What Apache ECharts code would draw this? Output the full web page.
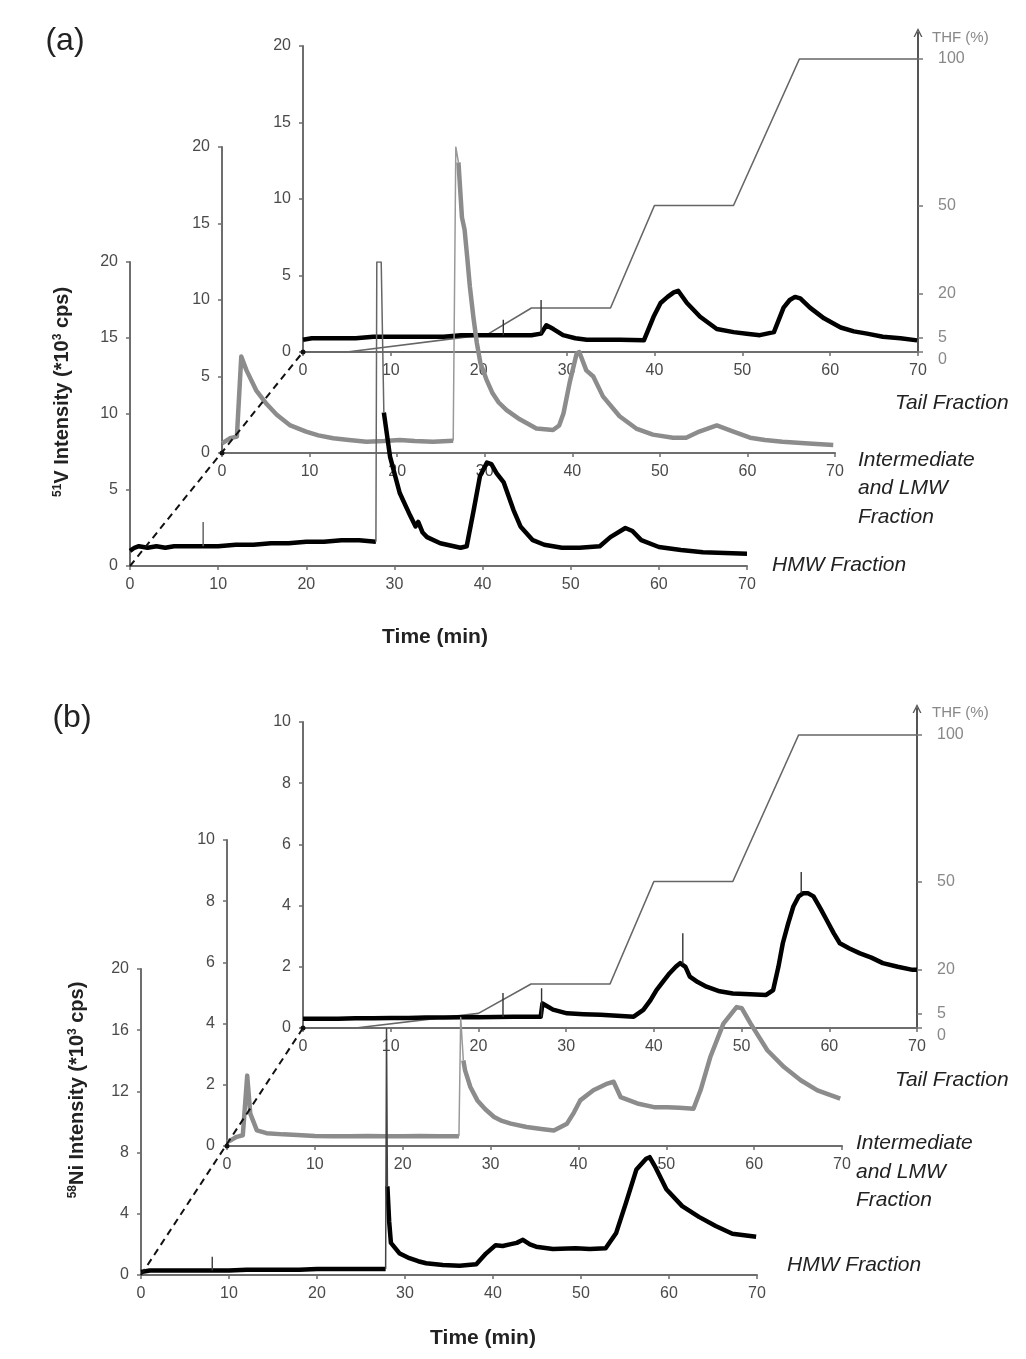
<!DOCTYPE html>
<html><head><meta charset="utf-8">
<script src="https://cdn.jsdelivr.net/npm/echarts@6/dist/echarts.min.js"></script>
<style>html,body{margin:0;padding:0;background:#fff}#c{width:1026px;height:1359px}</style>
</head><body><div id="c"></div><script>
// ---------- DATA (time in min, intensity in 10^3 cps) ----------
// Panel (a) 51V
const aHmwT = [0,0.5,1,2,3,4,5,6,7,8,9,10,12,14,16,18,20,22,24,26,27.9,28.3,28.8,29.5,30.6,31.8,32.4,32.7,33.2,33.7,35.2,37.5,38.2,39.0,39.7,40.5,41.0,41.6,42.4,43.5,44.3,45.7,47,49,51,53.3,54.5,56.2,57,58,60,62.5,65,67.5,70];
const aHmwV = [1.0,1.2,1.3,1.2,1.3,1.2,1.3,1.3,1.3,1.3,1.3,1.3,1.4,1.4,1.5,1.5,1.6,1.6,1.7,1.7,1.6,null,10.1,7.2,4.8,3.3,2.6,2.9,2.2,1.9,1.5,1.2,1.3,3.7,5.9,6.8,6.7,6.1,5.5,3.7,2.6,1.7,1.4,1.2,1.2,1.3,1.9,2.5,2.3,1.7,1.25,1.05,0.9,0.85,0.8];
const aHmwSpkT = [8.3,8.3,8.4,27.9,28.0,28.5,28.8];
const aHmwSpkV = [1.3,2.9,null,1.6,20,20,10.1];

const aIntT = [0,0.9,1.7,2.2,2.8,3.9,5.1,6.25,7.8,9.6,11,12.7,14.5,16.5,18.5,20.3,22,24.1,26.4,26.6,27.0,27.4,27.7,28.0,28.3,28.7,29.1,29.5,30.2,30.9,31.6,32.5,34.0,35.9,37.8,38.5,39.0,39.7,40.5,40.8,41.6,42.4,43.5,45.4,47.3,49.2,51.5,53.0,54.5,56.5,58.4,60.3,62,64,67,69.8];
const aIntV = [0.63,0.96,1.07,6.3,5.4,4.1,3.2,2.5,1.8,1.4,1.15,0.96,0.85,0.74,0.78,0.85,0.78,0.74,0.8,null,19.0,15.4,14.6,12.8,10.9,8.9,7.2,5.9,4.8,3.9,3.3,2.8,2.2,1.6,1.5,1.8,2.6,4.6,6.5,6.6,5.4,5.0,3.7,2.4,1.6,1.2,1.0,1.0,1.4,1.8,1.4,1.0,0.85,0.74,0.62,0.52];
const aIntSpkT = [26.4,26.7,27.0];
const aIntSpkV = [0.8,20,19.0];

const aTailT = [0,1,2,4,6,8,10,12,14,16,18,20,22,24,26,27.1,27.7,28.5,29.6,31,32.3,34,36.1,38.8,39.9,40.7,41.5,42.2,42.7,43.7,45.2,47.1,49.0,50.5,52.0,53.6,54.7,55.4,56.0,56.6,57.7,59.3,61.2,62.7,64.2,66,68,69.9];
const aTailV = [0.8,0.9,0.9,0.9,0.9,1.0,1.0,1.0,1.0,1.0,1.1,1.1,1.1,1.1,1.1,1.2,1.75,1.5,1.1,0.9,0.8,0.8,0.8,0.76,2.3,3.2,3.6,3.9,4.0,3.2,2.3,1.5,1.3,1.2,1.1,1.3,2.9,3.4,3.6,3.5,2.9,2.2,1.6,1.35,1.2,1.0,0.9,0.76];
const aTailSpkT = [22.8,22.8,25,27.1,27.1];
const aTailSpkV = [1.1,2.1,null,1.2,3.4];

const thfAT = [0,5,21,26,35,40,49,56.5,70];
const thfAV = [0,0,6,15,15,50,50,100,100];

// Panel (b) 58Ni
const bHmwT = [0,1,2,4,6,8,10,12,14,16,18,20,22,24,26,27.8,27.9,28.0,28.2,28.4,29.4,30.5,31.5,32.4,34.3,36.2,38.1,39.2,40.3,41.1,41.9,42.7,43.4,44.2,44.9,46.8,49.4,51,52.8,54.0,55.1,56.3,57.4,57.8,58.5,59.7,61.5,63.4,65.3,67.2,69.9];
const bHmwV = [0.2,0.3,0.3,0.3,0.3,0.3,0.3,0.35,0.35,0.35,0.35,0.4,0.4,0.4,0.4,0.4,null,5.8,3.5,2.1,1.4,1.1,0.9,0.77,0.65,0.6,0.7,1.4,1.95,1.9,2.0,2.1,2.3,2.0,1.85,1.7,1.75,1.7,1.75,2.75,4.7,6.9,7.6,7.7,7.0,5.6,4.5,3.8,3.2,2.7,2.5];
const bHmwSpkT = [8.1,8.1,9,27.8,27.9,28.0];
const bHmwSpkV = [0.3,1.2,null,0.4,16.1,5.8];

const bIntT = [0,0.5,1.1,1.8,2.3,2.65,3.4,4.5,6.4,8,10,12,14,16,18,20,22,24,26.4,26.6,26.9,27.1,27.7,28.5,29.4,30.4,31.3,32.3,34.1,36,37.2,38.7,39.5,40.2,41.7,43.3,44.0,44.8,46.7,48.6,50.1,51.5,53.1,53.9,55.0,56.5,58.0,58.6,59.6,61.5,63.4,65.3,67.2,69.8];
const bIntV = [0.13,0.2,0.3,0.35,2.3,1.06,0.51,0.42,0.38,0.36,0.33,0.32,0.32,0.33,0.32,0.32,0.33,0.32,0.32,null,2.8,2.47,1.93,1.49,1.2,0.95,0.82,0.73,0.62,0.55,0.51,0.73,1.1,1.49,1.82,2.04,2.1,1.6,1.39,1.27,1.27,1.25,1.22,1.82,2.9,4.0,4.54,4.5,4.0,3.13,2.58,2.15,1.82,1.55];
const bIntSpkT = [26.4,26.6,26.9];
const bIntSpkV = [0.32,4.2,2.8];

const bTailT = [0,2,4,6,8,10,12,14,16,18,20,22,24,26,27.1,27.3,28.5,30.1,32,33.9,35.8,37.7,38.8,39.6,40.3,41.0,41.8,42.5,43.0,43.6,44.1,45.0,46.0,47.5,49.0,51,52.8,53.6,54.2,54.7,55.3,55.9,56.5,57.0,57.6,58.2,59.0,59.7,60.5,61.2,62.3,63.5,64.8,66.1,67.8,69.5,70];
const bTailV = [0.3,0.3,0.3,0.32,0.32,0.33,0.33,0.34,0.34,0.35,0.35,0.36,0.37,0.37,0.37,0.8,0.6,0.48,0.45,0.43,0.4,0.37,0.59,0.9,1.24,1.5,1.79,2.0,2.12,2.0,1.68,1.5,1.35,1.2,1.13,1.1,1.08,1.24,2.0,2.77,3.4,3.97,4.3,4.4,4.4,4.3,3.9,3.53,3.1,2.77,2.6,2.44,2.3,2.12,2.0,1.9,1.9];
const bTailSpkT = [22.8,22.8,25,27.2,27.2,30,43.3,43.3,50,56.8,56.8];
const bTailSpkV = [0.36,1.14,null,0.37,1.3,null,2.1,3.1,null,4.4,5.1];

const thfBT = [0,6,20,26,35,40,49,56.5,70];
const thfBV = [0,0,5,15,15,50,50,100,100];

const thfTicks = [0,5,20,50,100];
const fractionLabels = ['Tail Fraction','Intermediate','and LMW','Fraction','HMW Fraction'];

// ---------- STYLE / LAYOUT ----------
const FONT = "'Liberation Sans', Arial, sans-serif";
const AX = '#6e6e6e';
const BLACK = '#000000', GRAY = '#8c8c8c';
function zip(t, v) { return t.map((x, i) => [x, v[i]]); }

const grids = [
  {left:130, top:262, width:617, height:304},   // 0 a HMW
  {left:222, top:147, width:613, height:306},   // 1 a Int
  {left:303, top:46,  width:615, height:306},   // 2 a Tail
  {left:303, top:32.6,width:615, height:319.4}, // 3 a THF
  {left:141, top:969, width:616, height:306},   // 4 b HMW
  {left:227, top:840, width:615, height:306},   // 5 b Int
  {left:303, top:722, width:614, height:306},   // 6 b Tail
  {left:303, top:708.6,width:614, height:319.4} // 7 b THF
];

const lbl = {fontSize:16, color:'#4a4a4a', fontFamily:FONT};
function xAx(gi, show) {
  return {type:'value', gridIndex:gi, min:0, max:70, interval:10, show:show,
    axisLine:{onZero:false, lineStyle:{color:AX, width:2}},
    axisTick:{show:true, length:4, lineStyle:{color:AX, width:1.5}},
    axisLabel:Object.assign({margin:11}, lbl), splitLine:{show:false}};
}
function yAx(gi, max, interval) {
  return {type:'value', gridIndex:gi, min:0, max:max, interval:interval,
    axisLine:{show:true, onZero:false, lineStyle:{color:AX, width:2}},
    axisTick:{show:true, length:4, lineStyle:{color:AX, width:1.5}},
    axisLabel:Object.assign({margin:12}, lbl), splitLine:{show:false}};
}
const thfLabelStyle = {margin:20, fontSize:16, color:'#888', fontFamily:FONT};
function thfAx(gi) {
  return {type:'value', gridIndex:gi, position:'right', min:0, max:109,
    axisLine:{show:true, onZero:false, symbol:['none','path://M0,10 L5,0 L10,10 L8.4,10 L5,3.2 L1.6,10 Z'], symbolSize:[11,9],
      lineStyle:{color:'#555', width:2}},
    axisTick:{show:true, customValues:thfTicks, length:5, lineStyle:{color:'#777', width:1.5}},
    axisLabel:Object.assign({customValues:thfTicks.filter(v => v > 0), hideOverlap:false}, thfLabelStyle),
    splitLine:{show:false}};
}
// separate label-only axis for the THF "0" (sits just under the "5")
function thfZeroAx(gi) {
  return {type:'value', gridIndex:gi, position:'right', min:0, max:109,
    axisLine:{show:false}, axisTick:{show:false}, splitLine:{show:false},
    axisLabel:Object.assign({customValues:thfTicks.filter(v => v === 0), verticalAlign:'top', showMinLabel:true}, thfLabelStyle)};
}

const xAxis = [xAx(0,true), xAx(1,true), xAx(2,true), xAx(3,false), xAx(4,true), xAx(5,true), xAx(6,true), xAx(7,false)];
const yAxis = [yAx(0,20,5), yAx(1,20,5), yAx(2,20,5), thfAx(3), yAx(4,20,4), yAx(5,10,2), yAx(6,10,2), thfAx(7),
               thfZeroAx(3), thfZeroAx(7)];

function line(idx, t, v, color, width, z) {
  return {type:'line', xAxisIndex:idx, yAxisIndex:idx, data:zip(t, v), showSymbol:false, symbol:'none',
    connectNulls:false, silent:true, animation:false, z:z, lineStyle:{color:color, width:width, join:'round'}};
}

const series = [
  line(3, thfAT, thfAV, '#666', 1.6, 2),
  line(2, aTailT, aTailV, BLACK, 4.5, 3), line(2, aTailSpkT, aTailSpkV, '#333', 1.4, 3),
  line(1, aIntT, aIntV, GRAY, 4.5, 4), line(1, aIntSpkT, aIntSpkV, '#999', 1.5, 4),
  line(0, aHmwT, aHmwV, BLACK, 4.5, 5), line(0, aHmwSpkT, aHmwSpkV, '#666', 1.5, 5),
  line(7, thfBT, thfBV, '#666', 1.6, 2),
  line(6, bTailT, bTailV, BLACK, 4.5, 3), line(6, bTailSpkT, bTailSpkV, '#333', 1.4, 3),
  line(5, bIntT, bIntV, GRAY, 4.5, 4), line(5, bIntSpkT, bIntSpkV, '#999', 1.5, 4),
  line(4, bHmwT, bHmwV, BLACK, 4.5, 5), line(4, bHmwSpkT, bHmwSpkV, '#444', 1.5, 5)
];

function txt(x, y, s, font, color, align, rot, rich) {
  const o = {type:'text', x:x, y:y, z:100, silent:true,
    style:{text:s, font:font, fill:color||'#222', align:align||'left', textAlign:align||'left',
      verticalAlign:'middle', textVerticalAlign:'middle'}};
  if (rot) o.rotation = rot;
  if (rich) o.style.rich = rich;
  return o;
}
const IT = "italic 21px " + FONT;
const supRich = {s:{fontSize:12, fontWeight:'bold', fontFamily:FONT, verticalAlign:'top', fill:'#222'},
                 n:{fontSize:20, fontWeight:'bold', fontFamily:FONT, fill:'#222'}};
const texts = [
  txt(65, 41, '(a)', "32px " + FONT, '#222', 'center'),
  txt(62, 392, '{s|51}{n|V Intensity (*10}{s|3}{n| cps)}', "bold 20px " + FONT, '#222', 'center', Math.PI/2, supRich),
  txt(435, 637, 'Time (min)', "bold 21px " + FONT, '#222', 'center'),
  txt(895, 403, fractionLabels[0], IT),
  txt(858, 460, fractionLabels[1], IT),
  txt(858, 488, fractionLabels[2], IT),
  txt(858, 517, fractionLabels[3], IT),
  txt(772, 565, fractionLabels[4], IT),
  txt(932, 38, 'THF (%)', "15px " + FONT, '#888'),
  txt(72, 718, '(b)', "32px " + FONT, '#222', 'center'),
  txt(77, 1090, '{s|58}{n|Ni Intensity (*10}{s|3}{n| cps)}', "bold 20px " + FONT, '#222', 'center', Math.PI/2, supRich),
  txt(483, 1338, 'Time (min)', "bold 21px " + FONT, '#222', 'center'),
  txt(895, 1080, fractionLabels[0], IT),
  txt(856, 1143, fractionLabels[1], IT),
  txt(856, 1172, fractionLabels[2], IT),
  txt(856, 1200, fractionLabels[3], IT),
  txt(787, 1265, fractionLabels[4], IT),
  txt(932, 713, 'THF (%)', "15px " + FONT, '#888')
];

const chart = echarts.init(document.getElementById('c'), null, {renderer:'canvas'});
chart.setOption({
  animation:false, backgroundColor:'#fff',
  textStyle:{fontFamily:FONT},
  grid:grids, xAxis:xAxis, yAxis:yAxis, series:series,
  graphic:{elements:texts}
});

// dashed connectors through the origins of the staggered plots (from the library's scales)
function origin(gi) { return chart.convertToPixel({gridIndex:gi}, [0, 0]); }
const extra = [];
[[0,1,2],[4,5,6]].forEach(function(g) {
  const p0 = origin(g[0]), p2 = origin(g[2]);
  extra.push({type:'polyline', z:50, silent:true, shape:{points:[p0, p2]},
    style:{stroke:'#111', lineWidth:2, lineDash:[7,5], fill:null}});
  [g[1], g[2]].forEach(function(gi) {
    const p = origin(gi);
    extra.push({type:'circle', z:51, silent:true, shape:{cx:p[0], cy:p[1], r:2.5}, style:{fill:'#111'}});
  });
});
chart.setOption({graphic:{elements:texts.concat(extra)}}, {replaceMerge:['graphic']});
</script></body></html>
